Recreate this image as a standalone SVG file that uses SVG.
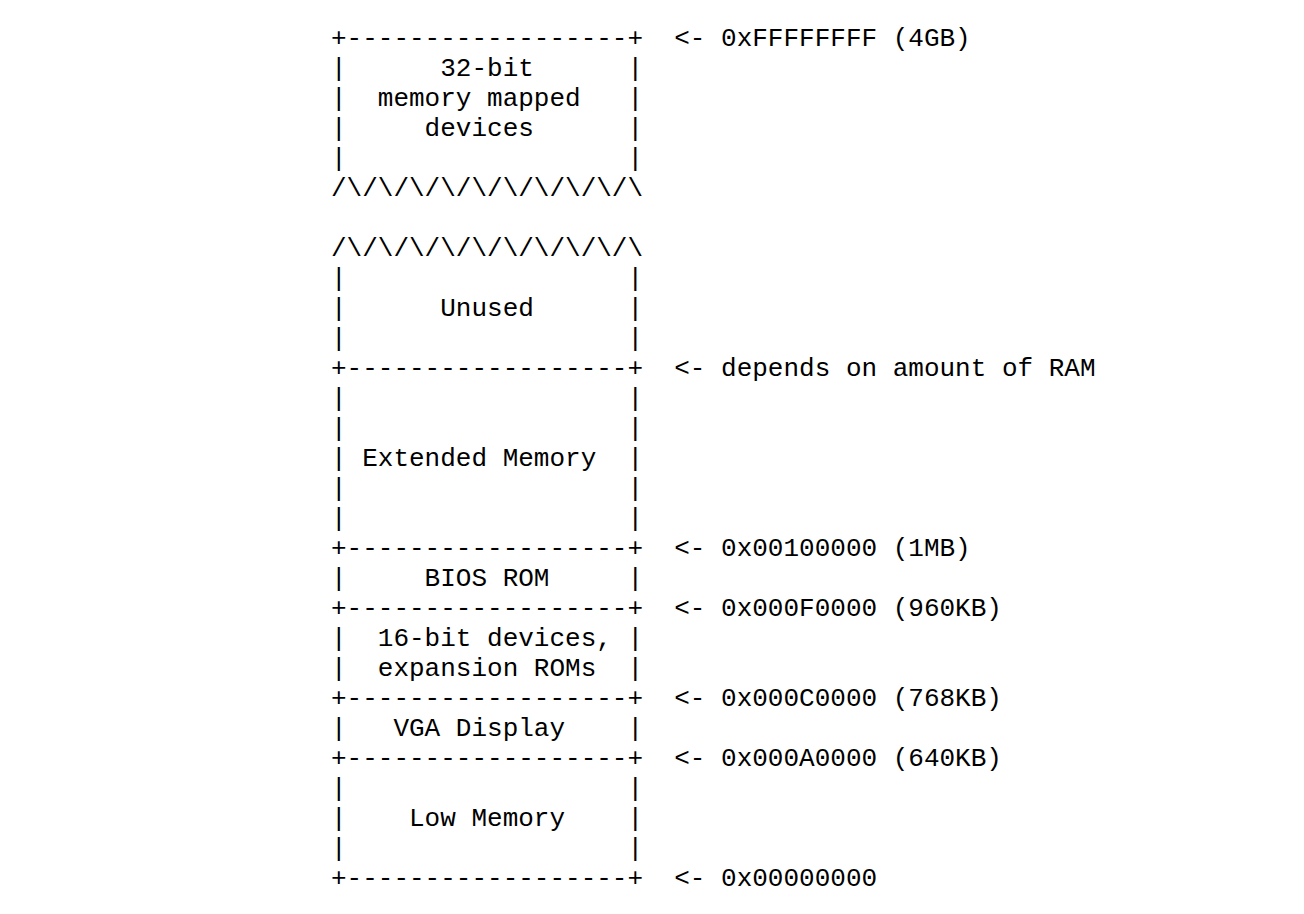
<svg xmlns="http://www.w3.org/2000/svg" width="1304" height="914" viewBox="0 0 1304 914">
<style>text{font-family:"Liberation Mono","DejaVu Sans Mono",monospace;font-size:26px;fill:#000;white-space:pre}</style>
<rect width="1304" height="914" fill="#fff"/>
<g id="memory-map" xml:space="preserve">
<text x="331" y="46">+------------------+  &lt;- 0xFFFFFFFF (4GB)</text>
<text x="331" y="76">|      32-bit      |</text>
<text x="331" y="106">|  memory mapped   |</text>
<text x="331" y="136">|     devices      |</text>
<text x="331" y="166">|                  |</text>
<text x="331" y="196">/\/\/\/\/\/\/\/\/\/\</text>
<text x="331" y="256">/\/\/\/\/\/\/\/\/\/\</text>
<text x="331" y="286">|                  |</text>
<text x="331" y="316">|      Unused      |</text>
<text x="331" y="346">|                  |</text>
<text x="331" y="376">+------------------+  &lt;- depends on amount of RAM</text>
<text x="331" y="406">|                  |</text>
<text x="331" y="436">|                  |</text>
<text x="331" y="466">| Extended Memory  |</text>
<text x="331" y="496">|                  |</text>
<text x="331" y="526">|                  |</text>
<text x="331" y="556">+------------------+  &lt;- 0x00100000 (1MB)</text>
<text x="331" y="586">|     BIOS ROM     |</text>
<text x="331" y="616">+------------------+  &lt;- 0x000F0000 (960KB)</text>
<text x="331" y="646">|  16-bit devices, |</text>
<text x="331" y="676">|  expansion ROMs  |</text>
<text x="331" y="706">+------------------+  &lt;- 0x000C0000 (768KB)</text>
<text x="331" y="736">|   VGA Display    |</text>
<text x="331" y="766">+------------------+  &lt;- 0x000A0000 (640KB)</text>
<text x="331" y="796">|                  |</text>
<text x="331" y="826">|    Low Memory    |</text>
<text x="331" y="856">|                  |</text>
<text x="331" y="886">+------------------+  &lt;- 0x00000000</text>
</g>
</svg>
